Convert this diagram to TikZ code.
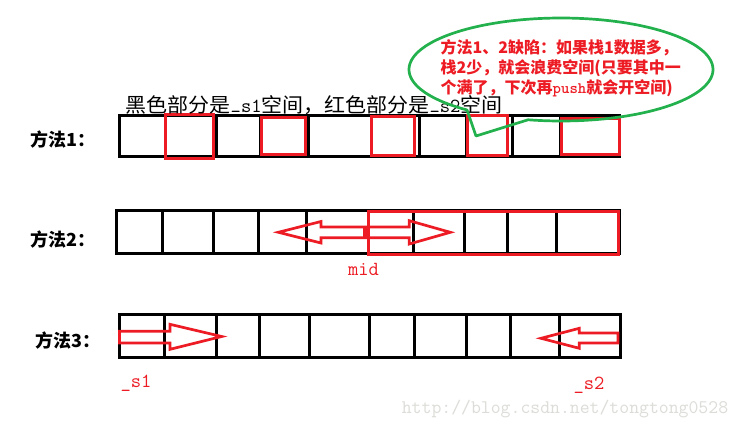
\documentclass[tikz,border=0pt]{standalone}
\usepackage{fontspec}
\newfontfamily\cjk{Noto Sans CJK SC}
\newfontfamily\cjkwide[FakeStretch=1.05]{Noto Sans CJK SC}
\definecolor{pred}{HTML}{ED1C24}
\definecolor{pgreen}{HTML}{22B14C}
\definecolor{wmgray}{HTML}{DCDCD8}
\newcommand\fsz[1]{\fontsize{#1pt}{#1pt}\selectfont}
\newcommand\upus{\raisebox{3.5pt}{\_}}
\begin{document}
\begin{tikzpicture}[x=1pt,y=-1pt,
  cellline/.style={line width=3pt,black},
  redbox/.style={line width=3pt,pred},
  blockarrow/.style={line width=2.7pt,pred},
  lab/.style={anchor=base west,inner sep=0pt,font=\cjk\bfseries\fsz{18}},
  redtt/.style={anchor=base,inner sep=0pt,text=pred,font=\ttfamily\fsz{20}},
  notetext/.style={anchor=base west,inner sep=0pt,text=pred,font=\cjk\bfseries\fsz{16}},
]
\fill[white] (0,0) rectangle (742,426);
\useasboundingbox (0,0) rectangle (742,426);

% ---- row 1
\draw[cellline] (119,115) rectangle (619.5,156.5);
\foreach \xx in {165,216.5,260,308.5,371,419,466,512.5,560}
  \draw[cellline] (\xx,115) -- (\xx,156.5);
\draw[redbox] (165.5,114.5) rectangle (213.5,158);
\draw[redbox] (261,117) rectangle (305.5,154);
\draw[redbox] (371.5,116.5) rectangle (414.5,155);
\draw[redbox] (467,115) rectangle (507.7,155);
\draw[redbox] (561,118) rectangle (619.3,154);

% ---- row 2
\draw[cellline] (116.7,210.7) rectangle (619,253.3);
\foreach \xx in {162.5,213.5,258.3,306.7,368.3,413.5,464,507.7,556.3}
  \draw[cellline] (\xx,210.7) -- (\xx,253.3);
\draw[redbox] (368.3,211.7) rectangle (618.7,254.7);
\draw[blockarrow] (278.3,232.3) -- (321,221.5) -- (321,227) -- (409.3,227)
  -- (409.3,220.7) -- (450.3,232.3) -- (409.3,244) -- (409.3,237.7)
  -- (321,237.7) -- (321,243) -- cycle;
\fill[pred] (363,226) rectangle (370,238.5);

% ---- row 3
\draw[cellline] (119,314.3) rectangle (620,357.7);
\foreach \xx in {164.2,216.3,259.7,309.7,369,414.7,466,510.3,559.3}
  \draw[cellline] (\xx,314.3) -- (\xx,357.7);
\draw[blockarrow] (119.5,331.3) -- (170,331.3) -- (170,324.3) -- (221.7,336.5)
  -- (170,349.3) -- (170,343) -- (119.5,343) -- cycle;
\draw[blockarrow] (618,333) -- (579.3,333) -- (579.3,328.3) -- (541,338.3)
  -- (579.3,348.3) -- (579.3,343) -- (618,343) -- cycle;

% ---- texts
\node[anchor=base west,inner sep=0pt,text height=14pt,font=\cjkwide\fsz{20}] (note) at (125.5,112)
  {黑色部分是{\ttfamily\upus s1}空间，红色部分是{\ttfamily\upus s2}空间};
\node[lab] (m1) at (30,146.8) {方法1：};
\node[lab] (m2) at (30,246.8) {方法2：};
\node[lab] (m3) at (35,347.8) {方法3：};
\node[redtt] (mid) at (363.5,275) {mid};
\node[redtt] (s1) at (136,387) {\_s1};
\node[redtt] (s2) at (589,389.5) {\_s2};
\node[anchor=base,inner sep=0pt,text=wmgray,font=\ttfamily\fsz{19.2}] (wm) at (565,413)
  {http://blog.csdn.net/tongtong0528};

% ---- callout
\draw[pgreen,line width=2.7pt,line join=round]
  plot[domain=102.5:-231.8,samples=140] ({561+152*cos(\x)},{69.5+51.5*sin(\x)})
  -- (476,136) -- cycle;
\node[notetext] (c1) at (440.5,53) {方法1、2缺陷：如果栈1数据多，};
\node[notetext] (c2) at (440.5,73) {栈2少，就会浪费空间(只要其中一};
\node[notetext,text depth=1pt] (c3) at (440.5,93) {个满了，下次再{\ttfamily push}就会开空间)};
\end{tikzpicture}
\end{document}
